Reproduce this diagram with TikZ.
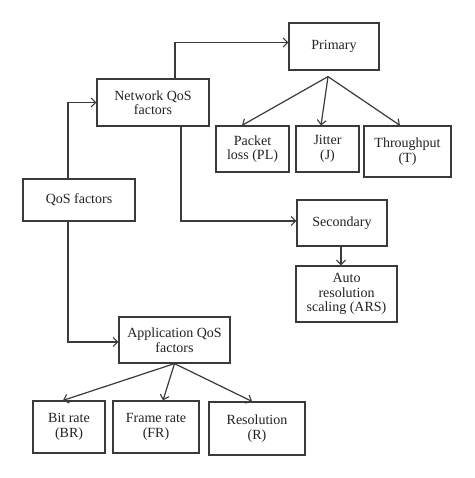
\documentclass[tikz,border=0pt]{standalone}
\usepackage{fontspec}
\setmainfont{Liberation Serif}
\usetikzlibrary{arrows.meta}
\definecolor{ln}{HTML}{3A3A3A}
\definecolor{tx}{HTML}{222222}
\tikzset{
  box/.style={draw=ln, line width=1.2pt, inner sep=0pt, align=center, text=tx,
    font=\fontsize{14}{14.5}\selectfont},
  arr/.style={draw=ln, line width=1.2pt, -{Straight Barb[length=4.5pt,width=9pt,line width=1.1pt]}}
}
\begin{document}
\begin{tikzpicture}[x=1pt,y=-1pt]
\useasboundingbox[fill=white] (0,0) rectangle (474,478);
\node[box, minimum width=112pt, minimum height=42pt] (qos) at (79,200) {QoS factors};
\node[box, minimum width=112pt, minimum height=47pt] (net) at (153,102.5) {Network QoS\\factors};
\node[box, minimum width=90pt, minimum height=47pt] (prim) at (334,46.5) {Primary};
\node[box, minimum width=73pt, minimum height=46pt] (pl) at (252.5,149) {Packet\\loss (PL)};
\node[box, minimum width=63pt, minimum height=46pt] (jit) at (327.5,149) {Jitter\\(J)};
\node[box, minimum width=87pt, minimum height=51pt] (thr) at (407.5,151.5) {Throughput\\(T)};
\node[box, minimum width=90pt, minimum height=46pt] (sec) at (342,223) {Secondary};
\node[box, minimum width=101pt, minimum height=56pt] (ars) at (346.5,294) {Auto\\resolution\\scaling (ARS)};
\node[box, minimum width=111pt, minimum height=46pt] (app) at (174.5,340) {Application QoS\\factors};
\node[box, minimum width=72pt, minimum height=52pt] (br) at (69,427) {Bit rate\\(BR)};
\node[box, minimum width=86pt, minimum height=52pt] (fr) at (156,427) {Frame rate\\(FR)};
\node[box, minimum width=96pt, minimum height=53pt] (res) at (257,428.5) {Resolution\\(R)};

\draw[arr] ([xshift=-11pt]qos.north) |- (net.west);
\draw[arr] ([xshift=-11pt]qos.south) |- ([yshift=-2pt]app.west);
\draw[arr] ([xshift=22pt]net.north) |- ([yshift=4pt]prim.west);
\draw[arr] ([xshift=28pt]net.south) |- ([yshift=2pt]sec.west);
\draw[arr] ([xshift=-1pt]sec.south) -- ([xshift=-5.5pt]ars.north);

\coordinate (pf) at ([xshift=-6pt,yshift=-6pt]prim.south);
\draw[arr] (pf) -- ([xshift=-10.5pt]pl.north);
\draw[arr] (pf) -- ([xshift=-6.5pt]jit.north);
\draw[arr] (pf) -- ([xshift=-7.5pt]thr.north);

\coordinate (af) at (app.south);
\draw[arr] (af) -- ([xshift=-6pt]br.north);
\draw[arr] (af) -- ([xshift=7pt]fr.north);
\draw[arr] (af) -- ([xshift=-5pt]res.north);
\end{tikzpicture}
\end{document}
